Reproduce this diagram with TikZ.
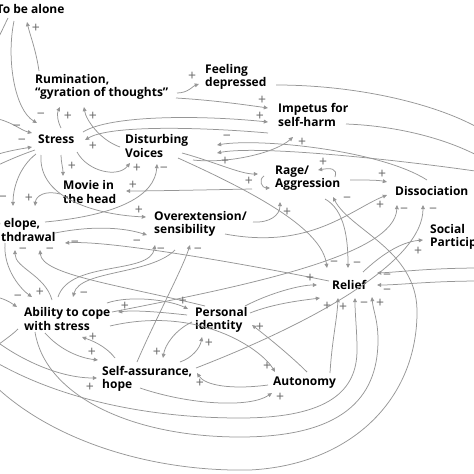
\documentclass[tikz,border=0pt]{standalone}
\usepackage{fontspec}
\setmainfont{Open Sans}
\usetikzlibrary{arrows.meta}
\definecolor{linkgray}{RGB}{150,150,150}
\definecolor{signgray}{RGB}{105,105,105}

\begin{document}
\begin{tikzpicture}[x=1pt, y=-1pt, font=\bfseries\fontsize{12}{13.5}\selectfont]
	\tikzset{
		factor/.style={anchor=west, align=left, inner sep=0pt, text=black},
		link/.style={draw=linkgray, line width=0.75pt, -{Triangle[length=4.2pt, width=3.8pt]}},
		plain/.style={draw=linkgray, line width=0.75pt},
		sgn/.style={pos=1, text=signgray, font=\mdseries\fontsize{14}{14}\selectfont, inner sep=0pt},
	}
	\useasboundingbox (0,0) rectangle (474,474);
	\clip (0,0) rectangle (474,474);

	% factors
	\node[factor] (alone) at (-3.5,9) {To be alone};
	\node[factor] (rum) at (35,87) {Rumination,\\“gyration of thoughts”};
	\node[factor] (dep) at (205,77) {Feeling\\depressed};
	\node[factor] (imp) at (278,115) {Impetus for\\self-harm};
	\node[factor] (stress) at (38,139) {Stress};
	\node[factor] (voices) at (125,146) {Disturbing\\Voices};
	\node[factor] (rage) at (275,178) {Rage/\\Aggression};
	\node[factor] (diss) at (395,191) {Dissociation};
	\node[factor] (movie) at (63,192) {Movie in\\the head};
	\node[factor] (elope) at (-13,230) {To elope,\\withdrawal};
	\node[factor] (over) at (154,224) {Overextension/\\sensibility};
	\node[factor] (social) at (430,237) {Social\\Participation};
	\node[factor] (relief) at (332,285) {Relief};
	\node[factor] (cope) at (24,319) {Ability to cope\\with stress};
	\node[factor] (ident) at (195,320) {Personal\\identity};
	\node[factor] (selfa) at (102,379) {Self-assurance,\\hope};
	\node[factor] (auto) at (273,383) {Autonomy};

	% loose ends outside the frame
	\coordinate (offA) at (-8,48);
	\coordinate (offB) at (482,130);
	\coordinate (offC) at (482,158);
	\coordinate (offD) at (482,172);
	\coordinate (offE) at (-8,296);
	\coordinate (offF) at (-8,383);
	\coordinate (offG) at (482,268);
	\coordinate (offH) at (482,281);
	\coordinate (offI) at (-8,360);
	\coordinate (offJ) at (-8,338);
	\coordinate (offK) at (-8,118);
	\coordinate (offL) at (-8,156);
	\coordinate (offM) at (-8,168);
	\coordinate (offN) at (-8,350);

	% upper part
	\draw[plain] ([shift={(11.5,9)}]alone.west) .. controls +(-5,10) and +(6,-8) .. (offA);
	\draw[link] ([shift={(4,-16)}]rum.west) .. controls +(-3,-21) and +(3,13) .. node[sgn, shift={(9,6)}] {+} ([shift={(30.5,13)}]alone.west);
	\draw[link] ([shift={(17.5,12)}]alone.west) .. controls +(-8,39) and +(-22,-13) .. node[sgn, shift={(4,-7)}] {−} ([shift={(-1,-16)}]stress.west);
	\draw[link] ([shift={(23,-11)}]stress.west) .. controls +(-4,-8) and +(-3,6) .. node[sgn, shift={(8,9)}] {+} ([shift={(25,20)}]rum.west);
	\draw[link] ([shift={(-5,1)}]voices.west) .. controls +(-20,-7) and +(2,13) .. node[sgn, shift={(9,9)}] {+} ([shift={(49,20)}]rum.west);
	\draw[link] ([shift={(142,6)}]rum.west) .. controls +(11,0) and +(-6,2) .. node[sgn, shift={(-7,-8)}] {+} ([shift={(-6,7)}]dep.west);
	\draw[link] ([shift={(141,11)}]rum.west) .. controls +(34,2) and +(-28,-4) .. node[sgn, shift={(-6,-8)}] {+} ([shift={(-10,-7)}]imp.west);
	\draw[link] ([shift={(45,-7)}]stress.west) .. controls +(27,-17) and +(-68,-7) .. node[sgn, shift={(-8,-6)}] {+} ([shift={(-10,7)}]imp.west);
	\draw[link] ([shift={(-10,18)}]imp.west) .. controls +(-68,-6) and +(25,-15) .. node[sgn, shift={(8,6)}] {+} ([shift={(47,1)}]stress.west);
	\draw[plain] ([shift={(71,8)}]dep.west) .. controls +(84,0) and +(-42,-25) .. (offB);
	\draw[plain] ([shift={(68,9)}]imp.west) .. controls +(54,2) and +(-32,-18) .. (offC);
	\draw[link] ([shift={(68,14)}]voices.west) .. controls +(35,4) and +(-18,16) .. node[sgn, shift={(9,5)}] {+} ([shift={(15,22)}]imp.west);
	\draw[link] ([shift={(32,-11)}]diss.west) .. controls +(-47,-30) and +(43,-7) .. node[sgn, shift={(10,-7)}] {−} ([shift={(92,-1)}]voices.west);
	\draw[link] (offD) .. controls +(-82,-12) and +(43,-8) .. node[sgn, shift={(8,8)}] {+} ([shift={(92,7)}]voices.west);
	\draw[link] ([shift={(39,13)}]stress.west) .. controls +(11,20) and +(-12,15) .. node[sgn, shift={(7,5)}] {+} ([shift={(5,17)}]voices.west);
	\draw[link] ([shift={(58,-8)}]elope.west) .. controls +(75,-7) and +(-2,31) .. node[sgn, shift={(7,6)}] {−} ([shift={(32,18)}]voices.west);
	\draw[link] ([shift={(57,7)}]voices.west) .. controls +(33,9) and +(-18,0) .. node[sgn, shift={(-9,7)}] {+} ([shift={(-17,-4)}]rage.west);
	\draw[link] ([shift={(53,12)}]voices.west) .. controls +(82,37) and +(-5,-38) .. node[sgn, shift={(7,-4)}] {−} ([shift={(-5,-17)}]relief.west);
	\draw[link] ([shift={(-23,11)}]rage.west) .. controls +(-52,1) and +(24,0) .. node[sgn, shift={(7,-6)}] {+} ([shift={(63,-1)}]movie.west);
	\draw[link] ([shift={(23,16)}]stress.west) .. controls +(0,7) and +(0,-8) .. node[sgn, shift={(9,-10)}] {+} ([shift={(0,-16)}]movie.west);
	\draw[link] ([shift={(3,16)}]stress.west) .. controls +(-3,45) and +(-46,-2) .. node[sgn, shift={(-7,-7)}] {+} ([shift={(-8,-7)}]over.west);
	\draw[link] ([shift={(-2,15)}]stress.west) .. controls +(-18,14) and +(0,-16) .. node[sgn, shift={(-10,-7)}] {−} ([shift={(26,-24)}]elope.west);
	\draw[link] ([shift={(-3,2)}]movie.west) .. controls +(-15,-4) and +(1,-10) .. node[sgn, shift={(-6,-8)}] {+} ([shift={(48,-24)}]elope.west);
	\draw[link] (offK) .. controls +(18,2) and +(-12,-3) .. node[sgn, shift={(-15,-5)}] {−} ([shift={(-6,-6)}]stress.west);
	\draw[link] (offL) .. controls +(15,-5) and +(-12,2) .. node[sgn, shift={(-10,-5)}] {−} ([shift={(-6,8)}]stress.west);
	\draw[plain] ([shift={(-3,11)}]stress.west) .. controls +(-15,5) and +(10,-5) .. (offM);

	% middle part
	\draw[link] ([shift={(68,3)}]elope.west) .. controls +(40,-8) and +(-22,-7) .. node[sgn, shift={(-10,8)}] {−} ([shift={(-7,11)}]over.west);
	\draw[link] ([shift={(28,-19)}]cope.west) .. controls +(-7,-25) and +(0,18) .. node[sgn, shift={(8,1)}] {−} ([shift={(28,20)}]elope.west);
	\draw[link] ([shift={(10,-14)}]ident.west) .. controls +(-85,-21) and +(2,25) .. node[sgn, shift={(10,1)}] {−} ([shift={(53,20)}]elope.west);
	\draw[link] ([shift={(-3,-4)}]relief.west) .. controls +(-79,-16) and +(45,-3) .. node[sgn, shift={(10,1)}] {−} ([shift={(78,13)}]elope.west);
	\draw[link] ([shift={(18,13)}]elope.west) .. controls +(-2,27) and +(-10,-7) .. node[sgn, shift={(8,-5)}] {+} ([shift={(8,-22)}]cope.west);
	\draw[link] (offE) .. controls +(11,2) and +(-7,-5) .. node[sgn, shift={(1,-9)}] {−} ([shift={(-7,-12)}]cope.west);
	\draw[link] ([shift={(21,26)}]over.west) .. controls +(-25,25) and +(7,-27) .. node[sgn, shift={(11,-2)}] {−} ([shift={(49,-22)}]cope.west);
	\draw[link] ([shift={(34,-22)}]cope.west) .. controls +(12,-37) and +(-5,30) .. node[sgn, shift={(6,6)}] {−} ([shift={(1,21)}]over.west);
	\draw[link] ([shift={(35,-17)}]selfa.west) .. controls +(18,-42) and +(-8,25) .. node[sgn, shift={(8,6)}] {−} ([shift={(36,21)}]over.west);
	\draw[link] ([shift={(99,-2)}]over.west) .. controls +(17,1) and +(0,13) .. node[sgn, shift={(7,10)}] {+} ([shift={(5,24)}]rage.west);
	\draw[link] ([shift={(71,10)}]over.west) .. controls +(85,16) and +(-37,15) .. node[sgn, shift={(-7,10)}] {+} ([shift={(-8,4)}]diss.west);
	\draw[link] ([shift={(75,2)}]rage.west) .. controls +(16,0) and +(-9,-2) .. node[sgn, shift={(-5,-8)}] {+} ([shift={(-8,-9)}]diss.west);
	\draw[link] ([shift={(60,-1)}]rage.west) .. controls +(3,-9) and +(12,-2) .. node[sgn, shift={(5,-8)}] {+} ([shift={(43,-8)}]rage.west);
	\draw[link] ([shift={(-11,-2)}]rage.west) .. controls +(-6,4) and +(-8,0) .. ([shift={(-5,10)}]rage.west);
	\draw[link] ([shift={(50,21)}]rage.west) .. controls +(20,11) and +(0,-28) .. node[sgn, shift={(9,-3)}] {−} ([shift={(16,-17)}]relief.west);
	\draw[link] ([shift={(88,-7)}]cope.west) .. controls +(138,-27) and +(-2,50) .. node[sgn, shift={(7,6)}] {−} ([shift={(2,14)}]diss.west);
	\draw[link] ([shift={(94,-11)}]selfa.west) .. controls +(124,-48) and +(0,55) .. node[sgn, shift={(10,6)}] {−} ([shift={(28,14)}]diss.west);
	\draw[link] ([shift={(31,-13)}]relief.west) .. controls +(17,-16) and +(-23,2) .. node[sgn, shift={(-5,11)}] {+} ([shift={(-7,3)}]social.west);
	\draw[link] (offG) .. controls +(-52,0) and +(23,-1) .. node[sgn, shift={(10,4)}] {−} ([shift={(45,-12)}]relief.west);
	\draw[link] (offH) .. controls +(-52,0) and +(23,0) .. node[sgn, shift={(10,7)}] {−} ([shift={(45,0)}]relief.west);

	% lower part
	\draw[link] ([shift={(50,-14)}]ident.west) .. controls +(25,-13) and +(-17,0) .. node[sgn, shift={(-7,-7)}] {+} ([shift={(-15,0)}]relief.west);
	\draw[link] ([shift={(55,-7)}]ident.west) .. controls +(25,-10) and +(-15,2) .. node[sgn, shift={(7,8)}] {+} ([shift={(-12,13)}]relief.west);
	\draw[link] ([shift={(57,-10)}]auto.west) .. controls +(2,-33) and +(-1,22) .. node[sgn, shift={(5,9)}] {+} ([shift={(6,13)}]relief.west);
	\draw[link] (offI) .. controls (60,400) and (150,418) .. (240,418) .. controls (330,418) and (357,390) .. (357,350) .. controls (357,330) and (355,315) .. node[sgn, shift={(9,7)}] {−} ([shift={(23,13)}]relief.west);
	\draw[link] ([shift={(11,13)}]cope.west) .. controls (45,395) and (130,437) .. (240,437) .. controls (340,437) and (378,400) .. (378,340) .. controls (378,320) and (373,310) .. node[sgn, shift={(8,6)}] {+} ([shift={(40,12)}]relief.west);
	\draw[link] (offF) .. controls (50,440) and (150,472) .. (250,470) .. controls (350,465) and (418,400) .. (417,310) .. controls (416,250) and (350,230) .. node[sgn, shift={(14,3)}] {−} ([shift={(58,19)}]rage.west);
	\draw[link] ([shift={(21,14)}]cope.west) .. controls +(15,17) and +(-18,-2) .. node[sgn, shift={(-6,-8)}] {+} ([shift={(-4,-19)}]selfa.west);
	\draw[link] (offJ) .. controls +(28,22) and +(-37,0) .. node[sgn, shift={(-7,9)}] {+} ([shift={(-5,-1)}]selfa.west);
	\draw[link] ([shift={(13,-21)}]selfa.west) .. controls +(-10,-13) and +(8,3) .. node[sgn, shift={(11,0)}] {+} ([shift={(58,18)}]cope.west);
	\draw[link] ([shift={(-8,-5)}]ident.west) .. controls +(-27,-3) and +(17,-2) .. node[sgn, shift={(7,-6)}] {+} ([shift={(94,-7)}]cope.west);
	\draw[link] ([shift={(83,-16)}]cope.west) .. controls +(23,-8) and +(-18,-9) .. node[sgn, shift={(-5,-8)}] {+} ([shift={(-7,-11)}]ident.west);
	\draw[link] ([shift={(-3,2)}]ident.west) .. controls +(-17,8) and +(2,-13) .. node[sgn, shift={(-6,-6)}] {+} ([shift={(61,-21)}]selfa.west);
	\draw[link] ([shift={(78,-17)}]selfa.west) .. controls +(12,-4) and +(-2,11) .. node[sgn, shift={(7,6)}] {+} ([shift={(7,17)}]ident.west);
	\draw[link] ([shift={(38,9)}]selfa.west) .. controls +(50,17) and +(-22,15) .. node[sgn, shift={(8,4)}] {+} ([shift={(-1,10)}]auto.west);
	\draw[link] ([shift={(-5,2)}]auto.west) .. controls +(-38,5) and +(8,12) .. node[sgn, shift={(3,10)}] {+} ([shift={(95,-6)}]selfa.west);
	\draw[link] ([shift={(34,-11)}]auto.west) .. controls +(-17,-17) and +(13,10) .. node[sgn, shift={(8,2)}] {+} ([shift={(57,5)}]ident.west);
	\draw[link] ([shift={(86,7)}]cope.west) .. controls +(90,-21) and +(-13,-22) .. node[sgn, shift={(-8,-6)}] {+} ([shift={(2,-11)}]auto.west);
	\draw[plain] ([shift={(-6,10)}]cope.west) .. controls +(-8,8) and +(6,-6) .. (offN);
\end{tikzpicture}
\end{document}
